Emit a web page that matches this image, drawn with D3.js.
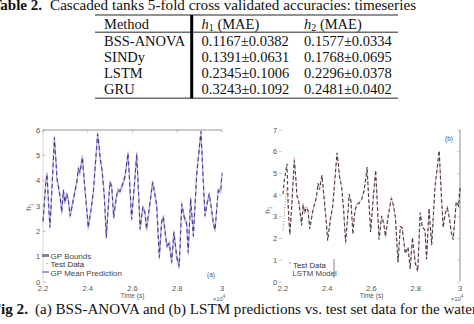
<!DOCTYPE html>
<html>
<head>
<meta charset="utf-8">
<script src="https://cdn.jsdelivr.net/npm/d3@7"></script>
<style>
  html, body { margin: 0; padding: 0; background: #fff; }
  svg { display: block; }
</style>
</head>
<body>
<svg id="fig" width="474" height="324"></svg>
<script>
// ---- Table 2: cross-validated MAE per method ----
const methods = ["BSS-ANOVA", "SINDy", "LSTM", "GRU"];
const h1Mae = ["0.1167", "0.1391", "0.2345", "0.3243"];
const h1Sd  = ["0.0382", "0.0631", "0.1006", "0.1092"];
const h2Mae = ["0.1577", "0.1768", "0.2296", "0.2481"];
const h2Sd  = ["0.0334", "0.0695", "0.0378", "0.0402"];

// ---- Fig 2: water level h1 over the test window (time in units of 1e4 s) ----
const timeKs = [2.200,2.206,2.212,2.218,2.224,2.231,2.240,2.251,2.257,2.263,2.270,2.276,2.284,2.291,2.298,2.306,2.313,2.321,2.335,2.351,
  2.358,2.365,2.376,2.385,2.395,2.402,2.415,2.425,2.444,2.450,2.455,2.465,2.474,2.483,2.491,2.499,2.507,2.516,2.525,2.534,
  2.544,2.555,2.566,2.574,2.580,2.588,2.596,2.608,2.619,2.627,2.634,2.646,2.656,2.663,2.676,2.690,2.700,2.708,2.720,2.730,
  2.738,2.753,2.765,2.775,2.785,2.798,2.809,2.820,2.830,2.842,2.849,2.860,2.872,2.887,2.906,2.915,2.924,2.933,2.943,2.952,
  2.961,2.969,2.983,2.994,3.000];
const testLevel = [2.38,3.10,3.90,4.30,3.20,2.13,3.70,5.74,4.90,4.03,3.75,3.37,2.73,3.64,3.12,3.50,3.24,2.58,3.24,3.96,
  4.49,4.30,4.95,3.90,2.90,2.12,2.90,3.57,5.88,5.40,4.95,4.30,3.37,1.73,2.90,3.96,3.77,2.52,3.20,3.64,
  3.57,3.85,4.16,4.69,5.11,3.80,2.45,3.80,5.08,3.50,2.06,2.98,2.71,2.06,3.00,3.96,3.45,3.04,0.94,2.40,
  2.58,1.40,1.53,0.74,1.99,0.94,0.55,3.11,2.58,2.32,1.13,3.31,1.79,4.30,5.98,4.20,2.58,3.10,3.50,2.90,
  2.32,2.03,3.64,3.57,4.30];
const gpMean = [2.40,3.08,3.88,4.26,3.22,2.16,3.68,5.70,4.88,4.05,3.73,3.39,2.76,3.62,3.14,3.48,3.25,2.61,3.22,3.94,
  4.46,4.32,4.92,3.92,2.92,2.15,2.88,3.55,5.84,5.42,4.93,4.32,3.39,1.77,2.88,3.94,3.78,2.55,3.18,3.62,
  3.58,3.83,4.14,4.66,5.08,3.82,2.48,3.78,5.05,3.52,2.09,2.96,2.73,2.09,2.98,3.93,3.47,3.02,0.98,2.37,
  2.56,1.43,1.51,0.78,1.96,0.97,0.62,3.08,2.60,2.30,1.17,3.28,1.82,4.27,5.94,4.22,2.61,3.08,3.48,2.92,
  2.34,2.06,3.61,3.58,4.27];
const gpHalfWidth = [0.06,0.06,0.07,0.07,0.06,0.06,0.07,0.08,0.07,0.06,0.06,0.06,0.07,0.06,0.06,0.06,0.06,0.07,0.06,0.06,
  0.07,0.07,0.08,0.07,0.06,0.07,0.06,0.06,0.08,0.07,0.07,0.06,0.06,0.08,0.06,0.06,0.06,0.07,0.06,0.06,
  0.06,0.06,0.06,0.07,0.08,0.07,0.07,0.06,0.08,0.07,0.07,0.06,0.06,0.07,0.06,0.07,0.07,0.08,0.09,0.08,
  0.07,0.08,0.08,0.09,0.08,0.09,0.10,0.08,0.07,0.07,0.08,0.07,0.08,0.07,0.08,0.07,0.07,0.06,0.06,0.06,
  0.07,0.07,0.06,0.06,0.07];
const lstmPred = [4.05,4.70,5.05,5.45,3.40,2.20,3.55,5.60,4.95,3.95,3.80,3.30,2.60,3.55,3.20,3.42,3.30,2.45,3.30,3.90,
  4.55,4.25,4.90,3.95,2.80,1.90,2.95,3.50,5.95,5.50,4.85,4.40,3.30,1.85,2.80,4.05,3.70,2.20,3.30,3.55,
  3.65,3.80,4.20,4.75,5.30,3.70,2.30,3.90,5.15,3.40,1.95,3.05,2.65,2.10,3.10,3.85,3.50,2.95,0.90,2.55,
  2.50,1.30,1.60,0.60,2.05,0.85,0.50,3.20,2.50,2.40,1.05,3.40,1.70,4.40,6.05,4.10,2.50,3.15,3.40,2.95,
  2.25,1.95,3.70,3.50,4.35];

const xTicks = [2.2, 2.4, 2.6, 2.8, 3];
const xTickLabels = ["2.2", "2.4", "2.6", "2.8", "3"];

const svg = d3.select("#fig");
const serif = "'Liberation Serif', 'Times New Roman', serif";
const sans = "'Liberation Sans', Arial, sans-serif";

// ---------- table header line ----------
svg.append("text").attr("x", 42).attr("y", 9.5).attr("text-anchor", "end")
  .attr("font-family", serif).attr("font-size", 15).attr("font-weight", "bold")
  .attr("fill", "#111").text("Table 2.");
svg.append("text").attr("x", 50).attr("y", 9.5)
  .attr("font-family", serif).attr("font-size", 15.2).attr("fill", "#111")
  .text("Cascaded tanks 5-fold cross validated accuracies: timeseries");

// ---------- table ----------
const tbl = svg.append("g").attr("font-family", serif).attr("font-size", 14.5).attr("fill", "#111");
const colX = [104, 201.5, 304];
const ruleX = [95, 398];
[15, 32.3, 98.3].forEach(y => {
  tbl.append("line").attr("x1", ruleX[0]).attr("x2", ruleX[1]).attr("y1", y).attr("y2", y)
    .attr("stroke", "#6e6e6e").attr("stroke-width", 1.4);
});
tbl.append("line").attr("x1", 191.7).attr("x2", 191.7).attr("y1", 15).attr("y2", 98.3)
  .attr("stroke", "#000").attr("stroke-width", 3);

tbl.append("text").attr("x", colX[0]).attr("y", 28.5).text("Method");
[["1", colX[1]], ["2", colX[2]]].forEach(([sub, x]) => {
  const t = tbl.append("text").attr("x", x).attr("y", 28.5);
  t.append("tspan").attr("font-style", "italic").text("h");
  t.append("tspan").attr("font-size", 10).attr("dy", 2.5).text(sub);
  t.append("tspan").attr("dy", -2.5).text(" (MAE)");
});
const rowY = d3.scaleBand().domain(methods).range([33, 97]);
methods.forEach((m, i) => {
  const y = rowY(m) + rowY.bandwidth() / 2 + 4.8;
  tbl.append("text").attr("x", colX[0]).attr("y", y).text(m);
  tbl.append("text").attr("x", colX[1]).attr("y", y).text(`${h1Mae[i]}\u00b1${h1Sd[i]}`);
  tbl.append("text").attr("x", colX[2]).attr("y", y).text(`${h2Mae[i]}\u00b1${h2Sd[i]}`);
});

// ---------- shared helpers for the two panels ----------
function axisText(g, x, y, txt, anchor = "middle", size = 7.5) {
  return g.append("text").attr("x", x).attr("y", y).attr("text-anchor", anchor)
    .attr("font-family", sans).attr("font-size", size).attr("fill", "#555").text(txt);
}

function panelAxes(g, x, y, yMax, opts) {
  // x tick labels + time label
  xTicks.forEach((t, i) => axisText(g, x(t), 290.5, xTickLabels[i]));
  const [x0, x1] = x.range();
  axisText(g, (x0 + x1) / 2, 298, "Time (s)", "middle", 6.5);
  const sci = axisText(g, x1 - 3, 300.5, "\u00d710", "middle", 6);
  sci.append("tspan").attr("font-size", 4.5).attr("dy", -2.5).text("4");
  // y tick labels
  d3.range(0, yMax + 1).forEach(v => axisText(g, opts.yLabelX, y(v) + 2.5, String(v)));
  // y title h1
  const yt = g.append("text").attr("transform", `translate(${opts.yTitleX},${opts.yTitleY}) rotate(-90)`)
    .attr("text-anchor", "middle").attr("font-family", sans).attr("font-size", 8).attr("fill", "#555");
  yt.append("tspan").text("h");
  yt.append("tspan").attr("font-size", 5.5).attr("dy", 2).text("1");
}

// ---------- panel (a): BSS-ANOVA GP ----------
const xa = d3.scaleLinear().domain([2.2, 3]).range([43, 222]);
const ya = d3.scaleLinear().domain([0, 6]).range([282, 130]);
const ga = svg.append("g");
const idx = d3.range(timeKs.length);

ga.append("line").attr("x1", 43).attr("x2", 43).attr("y1", 130).attr("y2", 282)
  .attr("stroke", "#cfcfcf").attr("stroke-width", 0.8);
ga.append("line").attr("x1", 43).attr("x2", 222).attr("y1", 130).attr("y2", 130)
  .attr("stroke", "#8a8a8a").attr("stroke-width", 0.9);
xTicks.forEach(t => {
  ga.append("line").attr("x1", xa(t)).attr("x2", xa(t)).attr("y1", 130).attr("y2", 132.5).attr("stroke", "#999").attr("stroke-width", 0.7);
});
d3.range(0, 7).forEach(v => {
  ga.append("line").attr("x1", 43).attr("x2", 45.5).attr("y1", ya(v)).attr("y2", ya(v)).attr("stroke", "#999").attr("stroke-width", 0.7);
});
panelAxes(ga, xa, ya, 6, { yLabelX: 38, yTitleX: 31, yTitleY: 207 });

// GP bounds band
ga.append("path").datum(idx)
  .attr("d", d3.area().x(i => xa(timeKs[i])).y0(i => ya(gpMean[i] - gpHalfWidth[i])).y1(i => ya(gpMean[i] + gpHalfWidth[i])))
  .attr("fill", "#a79fc6").attr("stroke", "#bdb6dc").attr("stroke-width", 1.1);
// test data (dotted)
ga.append("path").datum(idx)
  .attr("d", d3.line().x(i => xa(timeKs[i])).y(i => ya(testLevel[i])))
  .attr("fill", "none").attr("stroke", "#c8c2cc").attr("stroke-width", 0.9).attr("stroke-dasharray", "1,2");
// GP mean prediction (dashed)
ga.append("path").datum(idx)
  .attr("d", d3.line().x(i => xa(timeKs[i])).y(i => ya(gpMean[i])))
  .attr("fill", "none").attr("stroke", "#433e9c").attr("stroke-width", 1.1).attr("stroke-dasharray", "4,3");

// legend (a)
const la = ga.append("g");
la.append("rect").attr("x", 42).attr("y", 254).attr("width", 7).attr("height", 3).attr("fill", "#8a8098");
axisText(la, 50.5, 258.5, "GP Bounds", "start", 8).attr("fill", "#444");
la.append("circle").attr("cx", 47).attr("cy", 263.5).attr("r", 0.8).attr("fill", "#aaa");
axisText(la, 50.5, 267, "Test Data", "start", 8).attr("fill", "#333");
la.append("line").attr("x1", 42).attr("x2", 49).attr("y1", 272).attr("y2", 272).attr("stroke", "#4a45b0").attr("stroke-width", 1);
axisText(la, 50.5, 275.5, "GP Mean Prediction", "start", 8).attr("fill", "#444");
axisText(ga, 211, 277, "(a)", "middle", 6.5);

// ---------- panel (b): LSTM ----------
const xb = d3.scaleLinear().domain([2.2, 3]).range([283, 460]);
const yb = d3.scaleLinear().domain([0, 7]).range([282, 130]);
const gb = svg.append("g");
gb.append("line").attr("x1", 460).attr("x2", 460).attr("y1", 130).attr("y2", 281)
  .attr("stroke", "#a0a0a0").attr("stroke-width", 1.2);
d3.range(0, 8).forEach(v => {
  gb.append("line").attr("x1", 279).attr("x2", 282).attr("y1", yb(v)).attr("y2", yb(v)).attr("stroke", "#aaa").attr("stroke-width", 0.7);
  gb.append("line").attr("x1", 460).attr("x2", 457.5).attr("y1", yb(v)).attr("y2", yb(v)).attr("stroke", "#aaa").attr("stroke-width", 0.7);
});
panelAxes(gb, xb, yb, 7, { yLabelX: 275, yTitleX: 270, yTitleY: 210 });

gb.append("path").datum(idx)
  .attr("d", d3.line().x(i => xb(timeKs[i])).y(i => yb(testLevel[i])))
  .attr("fill", "none").attr("stroke", "#d46a6a").attr("stroke-width", 1).attr("stroke-dasharray", "1,1.8");
gb.append("path").datum(idx)
  .attr("d", d3.line().x(i => xb(timeKs[i])).y(i => yb(lstmPred[i])))
  .attr("fill", "none").attr("stroke", "#444").attr("stroke-width", 1.15).attr("stroke-dasharray", "3.5,2.5");

// legend (b)
const lb = gb.append("g");
lb.append("circle").attr("cx", 290).attr("cy", 263).attr("r", 0.8).attr("fill", "#d46a6a");
axisText(lb, 293, 267.5, "Test Data", "start", 7.8).attr("fill", "#333");
axisText(lb, 292.5, 276, "LSTM Model", "start", 7.8).attr("fill", "#444");
lb.append("line").attr("x1", 334).attr("x2", 334).attr("y1", 259).attr("y2", 278).attr("stroke", "#777").attr("stroke-width", 0.9);
axisText(gb, 449, 141, "(b)", "middle", 6.5);

// ---------- figure caption ----------
svg.append("text").attr("x", 28).attr("y", 314).attr("text-anchor", "end")
  .attr("font-family", serif).attr("font-size", 15.2).attr("font-weight", "bold")
  .attr("fill", "#111").text("Fig 2.");
svg.append("text").attr("x", 35).attr("y", 314)
  .attr("font-family", serif).attr("font-size", 15.1).attr("fill", "#111")
  .text("(a) BSS-ANOVA and (b) LSTM predictions vs. test set data for the water");
</script>
</body>
</html>
